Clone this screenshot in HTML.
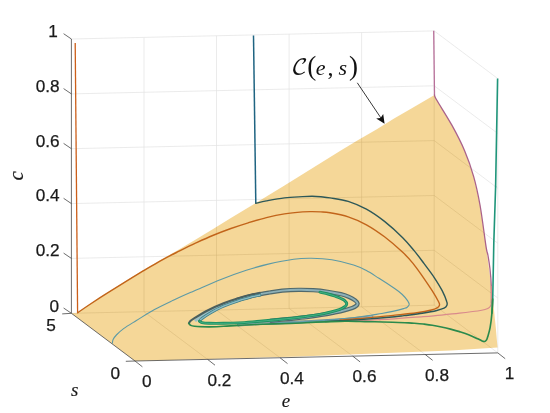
<!DOCTYPE html>
<html><head><meta charset="utf-8"><title>C(e,s)</title>
<style>
html,body{margin:0;padding:0;background:#fff;}
svg{display:block}
.g{stroke:#e3e3e3;stroke-width:0.7}
.go line{stroke:#8a6a30;stroke-opacity:0.09;stroke-width:0.7}
.a{stroke:#484848;stroke-width:0.8}
.t{font-family:"Liberation Sans",sans-serif;font-size:17.2px;fill:#1a1a1a;stroke:#1a1a1a;stroke-width:0.25}
.m{font-family:"Liberation Serif",serif;font-style:italic;font-size:19px;fill:#1a1a1a;stroke:#1a1a1a;stroke-width:0.15}
.big{font-family:"Liberation Serif",serif;font-style:italic;font-size:22px;fill:#111}
.par{font-style:normal;font-size:27px}
.com{font-style:normal;font-size:24px}
.cal{font-family:"DejaVu Math TeX Gyre","DejaVu Serif","Liberation Serif",serif;font-style:normal;font-size:23px}
</style></head><body>
<svg width="550" height="413" viewBox="0 0 550 413">
<rect width="550" height="413" fill="#fff"/>
<g class="grid"><line x1="144.0" y1="311.7" x2="144.0" y2="37.4" class="g"/><line x1="144.0" y1="311.7" x2="207.6" y2="359.4" class="g"/><line x1="216.5" y1="310.1" x2="216.5" y2="35.8" class="g"/><line x1="216.5" y1="310.1" x2="280.1" y2="357.8" class="g"/><line x1="289.1" y1="308.4" x2="289.1" y2="34.1" class="g"/><line x1="289.1" y1="308.4" x2="352.7" y2="356.1" class="g"/><line x1="361.6" y1="306.8" x2="361.6" y2="32.5" class="g"/><line x1="361.6" y1="306.8" x2="425.2" y2="354.5" class="g"/><line x1="71.4" y1="258.4" x2="434.2" y2="250.3" class="g"/><line x1="434.2" y1="250.3" x2="497.8" y2="298.0" class="g"/><line x1="71.4" y1="203.6" x2="434.2" y2="195.5" class="g"/><line x1="434.2" y1="195.5" x2="497.8" y2="243.2" class="g"/><line x1="71.4" y1="148.7" x2="434.2" y2="140.6" class="g"/><line x1="434.2" y1="140.6" x2="497.8" y2="188.3" class="g"/><line x1="71.4" y1="93.9" x2="434.2" y2="85.8" class="g"/><line x1="434.2" y1="85.8" x2="497.8" y2="133.5" class="g"/><line x1="71.4" y1="39.0" x2="434.2" y2="30.9" class="g"/><line x1="434.2" y1="30.9" x2="497.8" y2="78.6" class="g"/><line x1="434.2" y1="305.2" x2="434.2" y2="30.9" class="g"/><line x1="71.4" y1="313.3" x2="434.2" y2="305.2" class="g"/><line x1="434.2" y1="305.2" x2="497.8" y2="352.9" class="g"/><line x1="497.8" y1="352.9" x2="497.8" y2="78.6" class="g"/></g>
<path d="M71.4,313.3 L77.7,312.9 L88.2,305.3 L106.4,293.2 L124.5,281.8 L142.7,270.6 L160.9,259.8 L176.4,251.0 L194.5,240.2 L212.7,229.2 L230.9,218.0 L255.8,203.1 L284.5,185.6 L340.0,151.0 L358.2,140.0 L376.4,129.4 L394.5,118.2 L412.7,107.7 L434.5,95.0 L436.7,100.0 L452.0,125.4 L464.7,150.9 L473.6,176.3 L480.0,205.0 L486.0,246.3 L489.8,274.8 L493.0,300.0 L496.0,330.0 L497.5,347.5 L451.0,350.4 L380.0,353.3 L300.0,356.4 L135.0,361.0Z" fill="#ebaf31" fill-opacity="0.5" stroke="none"/>
<clipPath id="sc"><path d="M71.4,313.3 L77.7,312.9 L88.2,305.3 L106.4,293.2 L124.5,281.8 L142.7,270.6 L160.9,259.8 L176.4,251.0 L194.5,240.2 L212.7,229.2 L230.9,218.0 L255.8,203.1 L284.5,185.6 L340.0,151.0 L358.2,140.0 L376.4,129.4 L394.5,118.2 L412.7,107.7 L434.5,95.0 L436.7,100.0 L452.0,125.4 L464.7,150.9 L473.6,176.3 L480.0,205.0 L486.0,246.3 L489.8,274.8 L493.0,300.0 L496.0,330.0 L497.5,347.5 L451.0,350.4 L380.0,353.3 L300.0,356.4 L135.0,361.0Z"/></clipPath>
<g clip-path="url(#sc)" class="go"><line x1="144.0" y1="311.7" x2="144.0" y2="37.4" /><line x1="144.0" y1="311.7" x2="207.6" y2="359.4" /><line x1="216.5" y1="310.1" x2="216.5" y2="35.8" /><line x1="216.5" y1="310.1" x2="280.1" y2="357.8" /><line x1="289.1" y1="308.4" x2="289.1" y2="34.1" /><line x1="289.1" y1="308.4" x2="352.7" y2="356.1" /><line x1="361.6" y1="306.8" x2="361.6" y2="32.5" /><line x1="361.6" y1="306.8" x2="425.2" y2="354.5" /><line x1="71.4" y1="258.4" x2="434.2" y2="250.3" /><line x1="434.2" y1="250.3" x2="497.8" y2="298.0" /><line x1="71.4" y1="203.6" x2="434.2" y2="195.5" /><line x1="434.2" y1="195.5" x2="497.8" y2="243.2" /><line x1="71.4" y1="148.7" x2="434.2" y2="140.6" /><line x1="434.2" y1="140.6" x2="497.8" y2="188.3" /><line x1="71.4" y1="93.9" x2="434.2" y2="85.8" /><line x1="434.2" y1="85.8" x2="497.8" y2="133.5" /><line x1="71.4" y1="39.0" x2="434.2" y2="30.9" /><line x1="434.2" y1="30.9" x2="497.8" y2="78.6" /><line x1="434.2" y1="305.2" x2="434.2" y2="30.9" /><line x1="71.4" y1="313.3" x2="434.2" y2="305.2" /><line x1="434.2" y1="305.2" x2="497.8" y2="352.9" /><line x1="497.8" y1="352.9" x2="497.8" y2="78.6" /></g>
<g class="axes"><line x1="71.4" y1="313.3" x2="71.4" y2="39.0" class="a"/><line x1="71.4" y1="313.3" x2="135.0" y2="361.0" class="a"/><line x1="135.0" y1="361.0" x2="497.8" y2="352.9" class="a"/><line x1="71.4" y1="313.3" x2="63.6" y2="308.0" class="a"/><line x1="71.4" y1="258.4" x2="63.6" y2="253.1" class="a"/><line x1="71.4" y1="203.6" x2="63.6" y2="198.3" class="a"/><line x1="71.4" y1="148.7" x2="63.6" y2="143.4" class="a"/><line x1="71.4" y1="93.9" x2="63.6" y2="88.6" class="a"/><line x1="71.4" y1="39.0" x2="63.6" y2="33.7" class="a"/><line x1="135.0" y1="361.0" x2="142.4" y2="366.8" class="a"/><line x1="207.6" y1="359.4" x2="215.0" y2="365.2" class="a"/><line x1="280.1" y1="357.8" x2="287.5" y2="363.6" class="a"/><line x1="352.7" y1="356.1" x2="360.1" y2="361.9" class="a"/><line x1="425.2" y1="354.5" x2="432.6" y2="360.3" class="a"/><line x1="497.8" y1="352.9" x2="505.2" y2="358.7" class="a"/><line x1="71.4" y1="313.3" x2="62.2" y2="313.9" class="a"/><line x1="135.0" y1="361.0" x2="125.8" y2="361.3" class="a"/></g>
<path d="M372.0 316.6 C370.0 316.8 363.7 317.5 360.0 317.9 C356.3 318.3 355.8 318.4 350.0 318.9 C344.2 319.3 332.3 320.2 325.0 320.6 C317.7 321.1 311.8 321.3 306.0 321.6 C300.2 321.9 296.0 322.1 290.0 322.4 C284.0 322.7 275.8 323.1 270.0 323.3 C264.2 323.6 260.3 323.6 255.0 323.9 C249.7 324.2 241.0 324.8 238.2 325.0" fill="none" stroke="#6f8f98" stroke-width="2.8" stroke-linejoin="round" stroke-linecap="round" />
<path d="M372.0 316.6 C370.0 316.8 363.7 317.5 360.0 317.9 C356.3 318.3 355.8 318.4 350.0 318.9 C344.2 319.3 332.3 320.2 325.0 320.6 C317.7 321.1 311.8 321.3 306.0 321.6 C300.2 321.9 296.0 322.1 290.0 322.4 C284.0 322.7 275.8 323.1 270.0 323.3 C264.2 323.6 260.3 323.6 255.0 323.9 C249.7 324.2 241.0 324.8 238.2 325.0" fill="none" stroke="#a9c6cc" stroke-width="0.9" stroke-linejoin="round" stroke-linecap="round" />
<path d="M112.4 343.2 C112.5 342.6 112.4 340.9 113.1 339.5 C113.8 338.1 114.7 336.8 116.4 335.0 C118.2 333.2 120.3 331.0 123.6 328.6 C126.9 326.2 131.2 323.7 136.4 320.5 C141.6 317.3 148.4 312.8 154.5 309.5 C160.6 306.2 166.6 303.4 172.7 300.5 C178.8 297.6 186.3 294.3 190.9 292.3 C195.5 290.3 195.0 290.5 200.0 288.4 C205.0 286.2 213.2 282.4 220.9 279.4 C228.6 276.4 238.4 272.9 246.3 270.3 C254.2 267.8 260.3 265.9 268.2 264.1 C276.1 262.3 286.4 260.3 293.6 259.3 C300.8 258.3 305.0 258.2 311.4 258.3 C317.8 258.4 324.8 258.7 331.8 259.8 C338.8 260.9 347.8 263.2 353.6 265.0 C359.4 266.8 362.2 268.4 366.4 270.6 C370.6 272.8 374.2 275.3 379.0 278.3 C383.8 281.3 391.1 286.1 395.0 288.8 C398.9 291.5 400.2 292.5 402.3 294.5 C404.4 296.5 406.6 299.2 407.7 300.9 C408.8 302.6 409.3 303.4 409.2 304.5 C409.1 305.6 408.1 306.5 407.2 307.2 C406.3 307.9 406.0 307.9 403.6 308.6 C401.2 309.3 396.3 310.6 392.7 311.4 C389.1 312.2 385.4 312.9 381.8 313.5 C378.2 314.1 374.5 314.6 370.9 315.2 C367.3 315.8 364.3 316.2 360.0 316.8 C355.7 317.4 350.8 318.0 345.0 318.6 C339.2 319.2 331.5 319.8 325.0 320.3 C318.5 320.8 311.8 321.2 306.0 321.6 C300.2 322.0 296.0 322.2 290.0 322.5 C284.0 322.8 273.3 323.2 270.0 323.3" fill="none" stroke="#5c9aa6" stroke-width="1.1" stroke-linejoin="round" stroke-linecap="round" />
<path d="M433.7,30.7 L434.5,95.0" fill="none" stroke="#b8709a" stroke-width="1.3" stroke-linejoin="round"/>
<path d="M434.5 95.0 C434.9 95.8 433.8 94.9 436.7 100.0 C439.6 105.1 447.3 116.9 452.0 125.4 C456.7 133.9 461.1 142.4 464.7 150.9 C468.3 159.4 471.1 167.3 473.6 176.3 C476.2 185.3 477.9 193.3 480.0 205.0 C482.1 216.7 484.7 238.0 486.0 246.3 C487.3 254.6 487.2 251.3 487.9 255.0 C488.5 258.6 489.3 263.0 489.9 268.2 C490.5 273.4 491.1 280.6 491.3 286.4 C491.6 292.1 491.4 300.0 491.4 302.7" fill="none" stroke="#aa628a" stroke-width="1.3" stroke-linejoin="round" stroke-linecap="round" />
<path d="M491.3 286.4 C491.3 289.1 491.7 299.2 491.4 302.7 C491.1 306.2 490.6 306.2 489.5 307.3 C488.4 308.4 487.0 308.9 485.0 309.5 C483.0 310.1 481.9 310.4 477.7 311.0 C473.4 311.6 465.6 312.5 459.5 313.2 C453.4 313.9 447.4 314.5 441.4 315.1 C435.3 315.7 429.3 316.2 423.2 316.7 C417.1 317.2 410.5 317.5 405.0 317.9 C399.5 318.3 396.9 318.8 390.0 319.2 C383.1 319.6 371.9 320.0 363.6 320.4 C355.3 320.8 343.9 321.2 340.0 321.4" fill="none" stroke="#d98a8c" stroke-width="1.2" stroke-linejoin="round" stroke-linecap="round" />
<path d="M75.2,43.0 L77.6,312.8" fill="none" stroke="#cc5f1a" stroke-width="1.3" stroke-linejoin="round"/>
<path d="M77.6 312.8 C79.4 311.6 83.4 308.7 88.2 305.5 C93.0 302.3 100.4 297.5 106.4 293.6 C112.5 289.8 118.5 286.1 124.5 282.4 C130.6 278.7 136.6 274.8 142.7 271.2 C148.8 267.6 155.3 263.7 160.9 260.6 C166.5 257.5 170.8 255.3 176.4 252.5 C182.0 249.7 188.4 246.4 194.5 243.6 C200.6 240.8 206.6 238.0 212.7 235.5 C218.8 233.0 225.0 230.6 230.9 228.5 C236.8 226.4 242.3 224.6 248.2 222.8 C254.1 221.0 260.3 219.1 266.4 217.6 C272.4 216.1 278.4 214.8 284.5 213.9 C290.6 213.0 298.1 212.3 302.7 211.9 C307.3 211.5 309.2 211.6 312.2 211.6 C315.2 211.6 317.9 211.7 320.9 211.9 C323.9 212.1 325.4 212.0 330.0 212.8 C334.6 213.6 342.1 214.9 348.2 216.9 C354.3 218.9 360.3 221.5 366.4 224.8 C372.4 228.1 378.4 232.2 384.5 236.8 C390.6 241.4 397.9 247.8 402.7 252.3 C407.5 256.8 409.8 259.4 413.2 263.6 C416.6 267.8 420.0 272.8 423.2 277.3 C426.4 281.9 429.7 286.8 432.3 290.9 C434.9 295.0 437.4 299.4 438.6 301.8 C439.8 304.2 439.7 304.1 439.5 305.1 C439.3 306.1 438.6 307.0 437.2 307.8 C435.8 308.6 434.8 309.2 431.4 310.0 C428.0 310.8 422.9 311.8 416.8 312.7 C410.7 313.6 403.9 314.2 395.0 315.1 C386.1 316.0 372.8 317.5 363.6 318.3 C354.4 319.1 343.9 319.7 340.0 320.0" fill="none" stroke="#c2641a" stroke-width="1.4" stroke-linejoin="round" stroke-linecap="round" />
<path d="M253.5,35.5 L255.8,203.3" fill="none" stroke="#1f6482" stroke-width="1.5" stroke-linejoin="round"/>
<path d="M255.8 203.3 C257.6 202.9 261.6 201.8 266.4 200.9 C271.2 200.0 278.4 198.6 284.5 197.9 C290.6 197.2 298.1 196.9 302.7 196.6 C307.3 196.3 309.0 196.3 312.0 196.3 C315.0 196.3 317.9 196.5 320.9 196.8 C323.9 197.1 325.4 197.1 330.0 197.9 C334.6 198.7 342.1 199.5 348.2 201.4 C354.3 203.3 360.3 205.9 366.4 209.2 C372.4 212.5 378.4 216.7 384.5 221.4 C390.6 226.2 397.8 232.8 402.7 237.7 C407.6 242.6 410.5 246.3 414.1 250.6 C417.7 254.9 420.8 259.2 424.1 263.6 C427.4 268.1 431.1 272.8 434.1 277.3 C437.1 281.9 440.2 286.8 442.3 290.9 C444.4 295.0 446.1 299.4 446.8 301.8 C447.6 304.2 447.2 304.4 446.8 305.5 C446.4 306.6 445.8 307.4 444.1 308.2 C442.4 309.0 440.4 309.6 436.8 310.5 C433.2 311.4 427.8 312.4 422.3 313.3 C416.9 314.2 408.7 315.0 404.1 315.6 C399.6 316.2 401.8 316.1 395.0 316.7 C388.2 317.3 372.8 318.7 363.6 319.4 C354.4 320.1 346.4 320.4 340.0 320.8 C333.6 321.2 327.5 321.4 325.0 321.5" fill="none" stroke="#2d5858" stroke-width="1.4" stroke-linejoin="round" stroke-linecap="round" />
<path d="M236.0 300.3 C237.5 299.9 241.8 298.6 245.0 297.7 C248.2 296.8 250.9 296.1 255.0 295.2 C259.1 294.3 264.9 293.3 269.5 292.5 C274.1 291.7 277.4 291.1 282.3 290.6 C287.2 290.2 293.5 289.9 298.6 289.8 C303.8 289.7 308.4 289.9 313.2 290.2 C318.0 290.5 323.1 291.1 327.7 291.8 C332.3 292.5 337.3 293.4 340.9 294.2 C344.5 295.0 346.7 295.9 349.1 296.9 C351.5 297.9 353.8 299.3 355.2 300.4 C356.6 301.5 357.5 302.6 357.6 303.5 C357.7 304.4 356.9 305.3 356.0 306.0 C355.1 306.7 354.4 307.1 352.3 307.9 C350.2 308.7 346.2 309.9 343.2 310.7 C340.2 311.5 337.1 312.0 334.1 312.6 C331.1 313.2 329.6 313.6 325.0 314.4 C320.4 315.2 312.2 316.4 306.4 317.2 C300.6 317.9 296.1 318.3 290.0 318.9 C283.9 319.5 273.3 320.5 270.0 320.8" fill="none" stroke="#50696c" stroke-width="4.3" stroke-linejoin="round"  stroke-linecap="butt"/>
<path d="M236.0 300.3 C237.5 299.9 241.8 298.6 245.0 297.7 C248.2 296.8 250.9 296.1 255.0 295.2 C259.1 294.3 264.9 293.3 269.5 292.5 C274.1 291.7 277.4 291.1 282.3 290.6 C287.2 290.2 293.5 289.9 298.6 289.8 C303.8 289.7 308.4 289.9 313.2 290.2 C318.0 290.5 323.1 291.1 327.7 291.8 C332.3 292.5 337.3 293.4 340.9 294.2 C344.5 295.0 346.7 295.9 349.1 296.9 C351.5 297.9 353.8 299.3 355.2 300.4 C356.6 301.5 357.5 302.6 357.6 303.5 C357.7 304.4 356.9 305.3 356.0 306.0 C355.1 306.7 354.4 307.1 352.3 307.9 C350.2 308.7 346.2 309.9 343.2 310.7 C340.2 311.5 337.1 312.0 334.1 312.6 C331.1 313.2 329.6 313.6 325.0 314.4 C320.4 315.2 312.2 316.4 306.4 317.2 C300.6 317.9 296.1 318.3 290.0 318.9 C283.9 319.5 273.3 320.5 270.0 320.8" fill="none" stroke="#8db0b7" stroke-width="1.9" stroke-linejoin="round" stroke-linecap="round" />
<path d="M196.0 320.2 C196.8 319.6 198.8 318.0 201.0 316.6 C203.2 315.2 205.3 313.8 209.1 311.8 C212.9 309.8 218.8 306.9 223.6 304.8 C228.4 302.8 233.3 301.1 238.2 299.5 C243.0 297.9 249.1 296.4 252.7 295.5 C256.3 294.6 258.8 294.2 260.0 293.9" fill="none" stroke="#9cc0c6" stroke-width="3.0" stroke-linejoin="round" stroke-linecap="round" />
<path d="M189.0 323.3 C189.2 322.9 189.3 322.1 190.2 321.2 C191.1 320.3 191.3 320.0 194.5 318.1 C197.7 316.2 204.2 312.3 209.1 309.8 C213.9 307.3 218.8 305.2 223.6 303.3 C228.4 301.4 233.3 299.7 238.2 298.2 C243.0 296.7 249.1 295.2 252.7 294.3 C256.3 293.4 258.8 293.1 260.0 292.8" fill="none" stroke="#4b5f5e" stroke-width="2.1" stroke-linejoin="round" stroke-linecap="round" />
<path d="M199.6 321.2 C199.9 320.8 199.9 320.1 201.5 318.8 C203.1 317.6 205.4 315.8 209.1 313.7 C212.8 311.6 218.8 308.3 223.6 306.2 C228.4 304.1 233.3 302.4 238.2 300.8 C243.0 299.2 249.1 297.7 252.7 296.7 C256.3 295.7 258.8 295.3 260.0 295.0" fill="none" stroke="#3f8088" stroke-width="2.9" stroke-linejoin="round" stroke-linecap="round" />
<path d="M199.6 321.2 C199.9 320.8 199.9 320.1 201.5 318.8 C203.1 317.6 205.4 315.8 209.1 313.7 C212.8 311.6 218.8 308.3 223.6 306.2 C228.4 304.1 233.3 302.4 238.2 300.8 C243.0 299.2 249.1 297.7 252.7 296.7 C256.3 295.7 258.8 295.3 260.0 295.0" fill="none" stroke="#8ebcc4" stroke-width="1.3" stroke-linejoin="round" stroke-linecap="round" />
<path d="M497.6,78.5 L496.6,133.0 L495.6,187.0" fill="none" stroke="#1f957a" stroke-width="1.6" stroke-linejoin="round"/>
<path d="M495.6 187.0 C495.5 191.7 495.0 205.7 494.7 215.0 C494.4 224.3 494.1 233.0 493.8 243.0 C493.6 253.0 493.4 265.7 493.2 275.0 C493.0 284.3 492.9 292.6 492.7 299.0 C492.5 305.4 492.0 310.8 491.9 313.2" fill="none" stroke="#1f957a" stroke-width="1.6" stroke-linejoin="round" stroke-linecap="round" />
<path d="M492.7 299.0 C492.6 301.4 492.3 308.4 491.9 313.2 C491.5 318.0 490.8 323.8 490.1 327.7 C489.4 331.6 488.3 334.8 487.7 336.8 C487.1 338.8 487.1 338.9 486.7 339.6 C486.3 340.3 485.9 340.8 485.4 341.1 C484.9 341.4 484.4 341.6 483.8 341.5 C483.2 341.4 482.6 341.1 481.6 340.7 C480.6 340.2 479.9 339.8 477.7 338.8 C475.5 337.8 471.6 336.0 468.6 334.8 C465.6 333.6 462.5 332.6 459.5 331.6 C456.5 330.7 453.5 329.9 450.5 329.1 C447.5 328.3 444.4 327.6 441.4 327.0 C438.4 326.4 435.3 325.8 432.3 325.3 C429.3 324.8 426.2 324.4 423.2 324.0 C420.2 323.6 417.1 323.4 414.1 323.2 C411.1 323.0 408.6 322.9 405.0 322.7 C401.4 322.5 397.7 322.3 392.7 322.2 C387.7 322.1 380.4 321.9 375.0 321.8 C369.6 321.7 365.0 321.6 360.0 321.5 C355.0 321.4 350.8 321.2 345.0 321.3 C339.2 321.4 331.5 321.7 325.0 321.9 C318.5 322.1 311.8 322.4 306.0 322.7 C300.2 323.0 297.7 323.2 290.0 323.5 C282.3 323.8 268.6 324.0 260.0 324.3 C251.4 324.6 244.3 325.1 238.2 325.4 C232.1 325.7 228.4 326.1 223.6 326.3 C218.8 326.5 213.9 326.8 209.1 326.8 C204.2 326.8 197.6 326.6 194.5 326.3 C191.4 326.0 191.4 325.7 190.5 325.2 C189.6 324.7 189.2 323.6 189.0 323.3" fill="none" stroke="#2a8a4c" stroke-width="1.65" stroke-linejoin="round" stroke-linecap="round" />
<path d="M199.6 321.2 C200.0 321.4 200.4 322.2 202.0 322.6 C203.6 323.0 205.5 323.2 209.1 323.3 C212.7 323.4 218.8 323.4 223.6 323.3 C228.4 323.2 233.3 323.1 238.2 322.9 C243.0 322.7 249.1 322.2 252.7 321.9 C256.3 321.6 253.8 321.9 260.0 321.3 C266.2 320.7 282.3 319.2 290.0 318.4 C297.7 317.6 300.9 317.2 306.4 316.4 C311.8 315.6 317.2 314.9 322.7 313.8 C328.1 312.7 335.4 310.9 339.1 309.6 C342.9 308.4 343.9 307.3 345.2 306.3 C346.5 305.3 346.8 304.6 346.7 303.7 C346.6 302.8 345.7 301.5 344.7 300.6 C343.7 299.7 342.6 299.3 340.9 298.5 C339.2 297.7 336.6 296.8 334.5 296.0 C332.4 295.2 330.4 294.6 328.0 294.0 C325.6 293.4 321.3 292.5 320.0 292.2" fill="none" stroke="#1c9160" stroke-width="2.9" stroke-linejoin="round" stroke-linecap="round" />
<path d="M199.6 321.2 C200.0 321.4 200.4 322.2 202.0 322.6 C203.6 323.0 205.5 323.2 209.1 323.3 C212.7 323.4 218.8 323.4 223.6 323.3 C228.4 323.2 233.3 323.1 238.2 322.9 C243.0 322.7 249.1 322.2 252.7 321.9 C256.3 321.6 253.8 321.9 260.0 321.3 C266.2 320.7 282.3 319.2 290.0 318.4 C297.7 317.6 300.9 317.2 306.4 316.4 C311.8 315.6 317.2 314.9 322.7 313.8 C328.1 312.7 335.4 310.9 339.1 309.6 C342.9 308.4 343.9 307.3 345.2 306.3 C346.5 305.3 346.8 304.6 346.7 303.7 C346.6 302.8 345.7 301.5 344.7 300.6 C343.7 299.7 342.6 299.3 340.9 298.5 C339.2 297.7 336.6 296.8 334.5 296.0 C332.4 295.2 330.4 294.6 328.0 294.0 C325.6 293.4 321.3 292.5 320.0 292.2" fill="none" stroke="#6fcfa6" stroke-width="0.5" stroke-linejoin="round" stroke-linecap="round" />
<line x1="357.3" y1="82.8" x2="382" y2="119.6" stroke="#222" stroke-width="0.9"/>
<path d="M384.6 123.8 L376.2 118.4 L380.6 118.0 L383.2 114.0 Z" fill="#111"/>
<text x="57.8" y="36.8" text-anchor="end" class="t" >1</text><text x="59.6" y="91.7" text-anchor="end" class="t" >0.8</text><text x="59.6" y="146.5" text-anchor="end" class="t" >0.6</text><text x="59.6" y="201.4" text-anchor="end" class="t" >0.4</text><text x="59.6" y="256.2" text-anchor="end" class="t" >0.2</text><text x="59.0" y="312.1" text-anchor="end" class="t" >0</text><text x="55.9" y="331.2" text-anchor="end" class="t" >5</text><text x="115.4" y="378.6" text-anchor="middle" class="t" >0</text><text x="146.8" y="387.2" text-anchor="middle" class="t" >0</text><text x="219.4" y="385.6" text-anchor="middle" class="t" >0.2</text><text x="291.9" y="384.0" text-anchor="middle" class="t" >0.4</text><text x="364.5" y="382.3" text-anchor="middle" class="t" >0.6</text><text x="437.0" y="380.7" text-anchor="middle" class="t" >0.8</text><text x="509.6" y="379.1" text-anchor="middle" class="t" >1</text><text x="286.0" y="406.6" text-anchor="middle" class="m" >e</text><text x="74.8" y="396.3" text-anchor="middle" class="m" >s</text><text transform="translate(23.3,175.9) rotate(-90)" text-anchor="middle" class="m" style="font-size:21px">c</text><text y="74.9" class="big"><tspan x="291.2" class="cal">𝒞</tspan><tspan x="307.2" class="par">(</tspan><tspan x="315.8">e</tspan><tspan x="327.6" class="com">,</tspan><tspan x="338.6">s</tspan><tspan x="348.9" class="par">)</tspan></text>
</svg>
</body></html>
